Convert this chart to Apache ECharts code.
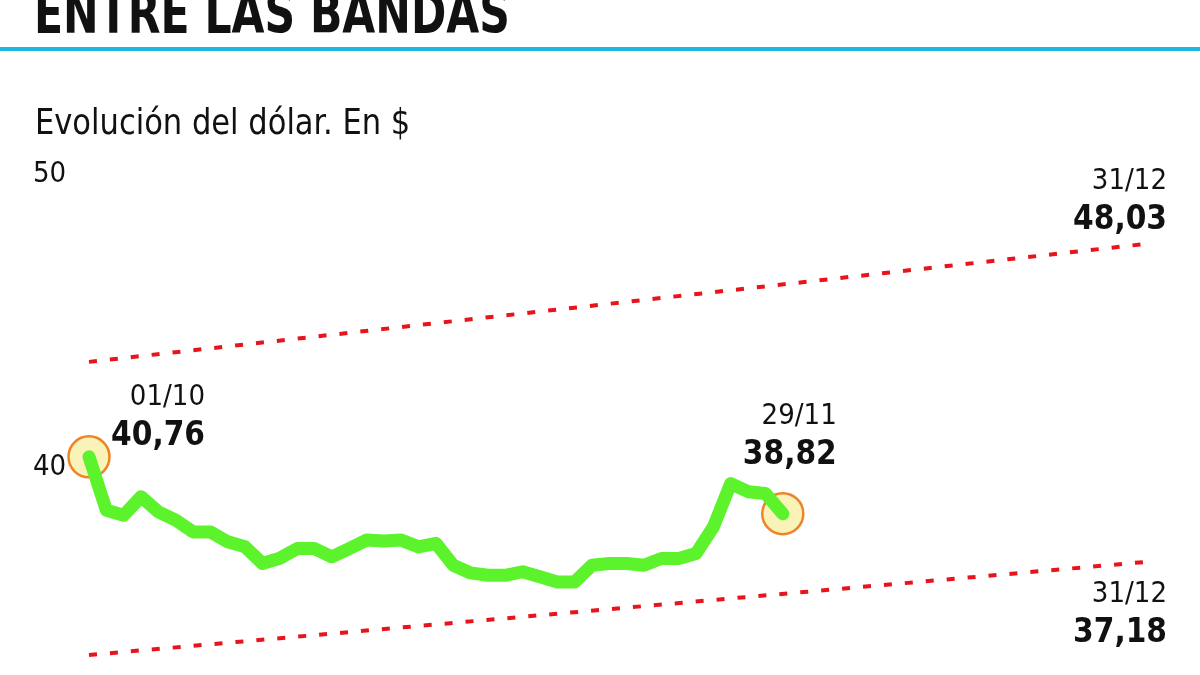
<!DOCTYPE html>
<html>
<head>
<meta charset="utf-8">
<script src="https://cdn.jsdelivr.net/npm/echarts@6/dist/echarts.min.js"></script>
<style>
html,body{margin:0;padding:0;background:#fff;}
#c{width:1200px;height:675px;}
</style>
</head>
<body>
<div id="c"></div>
<script>
// ---- data ----
const titleText = 'ENTRE LAS BANDAS';
const subtitleText = 'Evolución del dólar. En $';
const yTickLabels = [40, 50];
// business-day index of each observation
const dollarIndex = [0,1,2,3,4,5,6,7,8,9,10,11,12,13,14,15,16,17,18,19,20,21,22,23,24,25,26,27,28,29,30,31,32,33,34,35,36,37,38,39,40];
const dollarValues = [40.76,38.94,38.77,39.40,38.88,38.60,38.20,38.20,37.86,37.69,37.12,37.30,37.63,37.63,37.35,37.63,37.92,37.89,37.92,37.69,37.81,37.06,36.80,36.72,36.72,36.84,36.67,36.49,36.49,37.06,37.12,37.12,37.06,37.29,37.29,37.46,38.37,39.85,39.57,39.51,38.82];
const dollarFirstDate = '01/10';
const dollarLastDate = '29/11';
const bandIndex = [0, 61];
const bandUpper = [44.00, 48.03];
const bandLower = [34.00, 37.18];
const bandEndDate = '31/12';

// ---- styles ----
const NARROW = "'DejaVu Sans Condensed','Liberation Sans Narrow',Roboto,sans-serif";
const INK = '#111111';
const fmt = v => v.toFixed(2).replace('.', ',');
const rich = {
  d: {fontFamily: NARROW, fontSize: 29, color: INK, lineHeight: 39, align: 'right', opacity: 1},
  v: {fontFamily: NARROW, fontWeight: 'bold', fontSize: 33, color: INK, lineHeight: 39, align: 'right', opacity: 1}
};
function lab(date, val, offset) {
  return {show: true, position: 'inside', align: 'right', verticalAlign: 'top', offset: offset,
    color: INK, opacity: 1, textBorderWidth: 0,
    formatter: '{d|' + date + '}\n{v|' + fmt(val) + '}', rich: rich};
}
const dashStyle = {color: '#E8141B', width: 4, type: [8, 13]};
const last = dollarValues.length - 1;

const chart = echarts.init(document.getElementById('c'), null, {renderer: 'canvas'});
chart.setOption({
  animation: false,
  backgroundColor: '#fff',
  graphic: [
    {type: 'text', left: 34, top: -10, scaleX: 0.83, style: {text: titleText, font: "bold 57px " + NARROW, fill: INK}},
    {type: 'rect', left: 0, top: 47, shape: {width: 1200, height: 4}, style: {fill: '#1DB7E2'}},
    {type: 'text', left: 35, top: 107, scaleX: 0.97, style: {text: subtitleText, font: "35px " + NARROW, fill: INK}}
  ],
  grid: {left: 89, right: 53, top: 186, bottom: 20},
  xAxis: {type: 'value', min: 0, max: 61, show: false},
  yAxis: {
    type: 'value', min: 34, max: 50, interval: 2,
    axisLine: {show: false}, axisTick: {show: false}, splitLine: {show: false},
    axisLabel: {
      align: 'left', verticalAlign: 'bottom', margin: 56, lineHeight: 23,
      fontFamily: NARROW, fontSize: 29, color: INK,
      formatter: v => yTickLabels.indexOf(v) >= 0 ? String(v) : ''
    }
  },
  series: [
    {type: 'line', name: 'upper', data: bandIndex.map((x, i) => [x, bandUpper[i]]), symbol: 'none', clip: false, lineStyle: dashStyle, z: 2},
    {type: 'line', name: 'lower', data: bandIndex.map((x, i) => [x, bandLower[i]]), symbol: 'none', clip: false, lineStyle: dashStyle, z: 2},
    {type: 'scatter', name: 'circles', symbolSize: 41, clip: false, z: 3,
      itemStyle: {color: '#FAF3B8', borderColor: '#EE8426', borderWidth: 2.5, opacity: 1},
      data: [
        {value: [dollarIndex[0], dollarValues[0]], label: lab(dollarFirstDate, dollarValues[0], [116, -79])},
        {value: [dollarIndex[last], dollarValues[last]], label: lab(dollarLastDate, dollarValues[last], [54, -117])}
      ]},
    {type: 'line', name: 'dolar', data: dollarIndex.map((x, i) => [x, dollarValues[i]]), symbol: 'none', clip: false, z: 4,
      lineStyle: {color: '#5CF22C', width: 13, join: 'round', cap: 'round'}},
    {type: 'scatter', name: 'bandLabels', symbolSize: 1, clip: false, z: 5,
      itemStyle: {color: 'rgba(255,255,255,0)'},
      data: [
        {value: [bandIndex[1], bandUpper[1]], label: lab(bandEndDate, bandUpper[1], [20, -82])},
        {value: [bandIndex[1], bandLower[1]], label: lab(bandEndDate, bandLower[1], [20, 13])}
      ]}
  ]
});
</script>
</body>
</html>
